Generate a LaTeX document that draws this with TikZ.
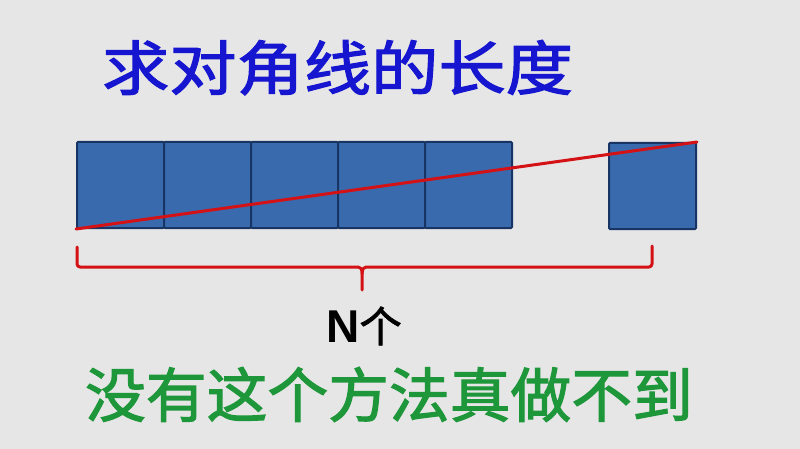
\documentclass[tikz,border=0pt]{standalone}
\usepackage{fontspec}
\newfontfamily\titlefont[FakeStretch=1.14,AutoFakeBold=2]{Noto Sans CJK SC}
\newfontfamily\greenfont[FakeStretch=1.03,AutoFakeBold=2]{Noto Sans CJK SC}
\newfontfamily\cjkfont[AutoFakeBold=2]{Noto Sans CJK SC}
\newfontfamily\latinbold{Liberation Sans}
\definecolor{bgc}{RGB}{230,230,230}
\definecolor{titleblue}{RGB}{22,22,208}
\definecolor{msgreen}{RGB}{30,150,58}
\definecolor{sqfill}{RGB}{58,106,174}
\definecolor{sqline}{RGB}{24,52,100}
\definecolor{redline}{RGB}{212,18,22}
\begin{document}
\begin{tikzpicture}[x=1pt,y=-1pt,
  sq/.style={draw=sqline,fill=sqfill,line width=2pt,minimum width=87pt,minimum height=86pt,inner sep=0pt,rounded corners=1pt},
  redstroke/.style={draw=redline,line width=3pt,line cap=round,line join=round},
  txt/.style={inner sep=0pt,anchor=base}]
\fill[bgc] (0,0) rectangle (800,449);
\useasboundingbox (0,0) rectangle (800,449);
% title
\node[txt,text=titleblue] (title) at (337.5,90) {\fontsize{59}{59}\selectfont\titlefont\bfseries 求对角线的长度};
% squares
\node[sq] (s1) at (120.5,185) {};
\node[sq] (s2) at (207.5,185) {};
\node[sq] (s3) at (294.5,185) {};
\node[sq] (s4) at (381.5,185) {};
\node[sq] (s5) at (468.5,185) {};
\node[sq] (s6) at (652.5,186) {};
% diagonal
\draw[redstroke] (s1.south west) -- (s6.north east);
% brace
\coordinate (bl) at (77,247);
\coordinate (br) at (652,246);
\coordinate (tip) at (362,290);
\draw[redstroke,rounded corners=3pt] (bl) -- (77,267) -- (355,267)
  .. controls (360,267) and (362,269) .. (362,274) -- (tip);
\draw[redstroke,rounded corners=3pt] (br) -- (652,267) -- (369,267)
  .. controls (364,267) and (362,269) .. (362,274);
% N label
\node[txt] (nlabel) at (364,342) {\fontsize{46}{46}\selectfont\latinbold\bfseries N\cjkfont\bfseries\fontsize{42}{42}\selectfont 个};
% green message
\node[txt,text=msgreen] (msg) at (389,417) {\fontsize{59}{59}\selectfont\greenfont\bfseries 没有这个方法真做不到};
\end{tikzpicture}
\end{document}
